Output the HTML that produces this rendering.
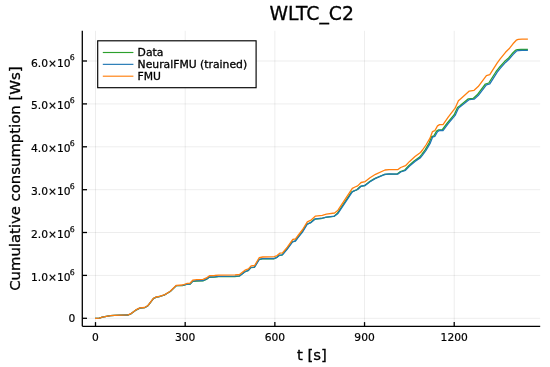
<!DOCTYPE html>
<html><head><meta charset="utf-8"><title>WLTC_C2</title>
<style>html,body{margin:0;padding:0;background:#fff;overflow:hidden}text{fill:#000;stroke:#000;stroke-width:0.2px}text.b{stroke-width:0.3px}</style></head>
<body>
<svg width="550" height="367" viewBox="0 0 550 367" style="display:block;font-family:'DejaVu Sans','Liberation Sans',sans-serif">
<rect width="550" height="367" fill="#fff"/>
<line x1="95.5" y1="30.8" x2="95.5" y2="326.3" stroke="#000" stroke-opacity="0.1" stroke-width="0.7"/>
<line x1="185.18" y1="30.8" x2="185.18" y2="326.3" stroke="#000" stroke-opacity="0.1" stroke-width="0.7"/>
<line x1="274.86" y1="30.8" x2="274.86" y2="326.3" stroke="#000" stroke-opacity="0.1" stroke-width="0.7"/>
<line x1="364.54" y1="30.8" x2="364.54" y2="326.3" stroke="#000" stroke-opacity="0.1" stroke-width="0.7"/>
<line x1="454.22" y1="30.8" x2="454.22" y2="326.3" stroke="#000" stroke-opacity="0.1" stroke-width="0.7"/>
<line x1="82.3" y1="318.3" x2="540.2" y2="318.3" stroke="#000" stroke-opacity="0.1" stroke-width="0.7"/>
<line x1="82.3" y1="275.4" x2="540.2" y2="275.4" stroke="#000" stroke-opacity="0.1" stroke-width="0.7"/>
<line x1="82.3" y1="232.5" x2="540.2" y2="232.5" stroke="#000" stroke-opacity="0.1" stroke-width="0.7"/>
<line x1="82.3" y1="189.7" x2="540.2" y2="189.7" stroke="#000" stroke-opacity="0.1" stroke-width="0.7"/>
<line x1="82.3" y1="146.8" x2="540.2" y2="146.8" stroke="#000" stroke-opacity="0.1" stroke-width="0.7"/>
<line x1="82.3" y1="103.9" x2="540.2" y2="103.9" stroke="#000" stroke-opacity="0.1" stroke-width="0.7"/>
<line x1="82.3" y1="61.0" x2="540.2" y2="61.0" stroke="#000" stroke-opacity="0.1" stroke-width="0.7"/>
<line x1="82.3" y1="326.3" x2="540.2" y2="326.3" stroke="#000" stroke-width="1.3"/>
<line x1="82.3" y1="30.8" x2="82.3" y2="326.3" stroke="#000" stroke-width="1.3"/>
<line x1="95.5" y1="326.3" x2="95.5" y2="322.1" stroke="#000" stroke-width="1.3"/>
<text x="95.5" y="340.8" font-size="10.7" text-anchor="middle">0</text>
<line x1="185.18" y1="326.3" x2="185.18" y2="322.1" stroke="#000" stroke-width="1.3"/>
<text x="185.18" y="340.8" font-size="10.7" text-anchor="middle">300</text>
<line x1="274.86" y1="326.3" x2="274.86" y2="322.1" stroke="#000" stroke-width="1.3"/>
<text x="274.86" y="340.8" font-size="10.7" text-anchor="middle">600</text>
<line x1="364.54" y1="326.3" x2="364.54" y2="322.1" stroke="#000" stroke-width="1.3"/>
<text x="364.54" y="340.8" font-size="10.7" text-anchor="middle">900</text>
<line x1="454.22" y1="326.3" x2="454.22" y2="322.1" stroke="#000" stroke-width="1.3"/>
<text x="454.22" y="340.8" font-size="10.7" text-anchor="middle">1200</text>
<line x1="82.3" y1="318.3" x2="87.0" y2="318.3" stroke="#000" stroke-width="1.3"/>
<text x="75.2" y="322.2" font-size="10.7" text-anchor="end">0</text>
<line x1="82.3" y1="275.4" x2="87.0" y2="275.4" stroke="#000" stroke-width="1.3"/>
<text x="70.5" y="280.9" font-size="10.7" text-anchor="end">1.0×10</text>
<text x="69.8" y="274.67" font-size="7.8" text-anchor="start">6</text>
<line x1="82.3" y1="232.5" x2="87.0" y2="232.5" stroke="#000" stroke-width="1.3"/>
<text x="70.5" y="238.0" font-size="10.7" text-anchor="end">2.0×10</text>
<text x="69.8" y="231.79" font-size="7.8" text-anchor="start">6</text>
<line x1="82.3" y1="189.7" x2="87.0" y2="189.7" stroke="#000" stroke-width="1.3"/>
<text x="70.5" y="195.2" font-size="10.7" text-anchor="end">3.0×10</text>
<text x="69.8" y="188.91" font-size="7.8" text-anchor="start">6</text>
<line x1="82.3" y1="146.8" x2="87.0" y2="146.8" stroke="#000" stroke-width="1.3"/>
<text x="70.5" y="152.3" font-size="10.7" text-anchor="end">4.0×10</text>
<text x="69.8" y="146.03" font-size="7.8" text-anchor="start">6</text>
<line x1="82.3" y1="103.9" x2="87.0" y2="103.9" stroke="#000" stroke-width="1.3"/>
<text x="70.5" y="109.4" font-size="10.7" text-anchor="end">5.0×10</text>
<text x="69.8" y="103.15" font-size="7.8" text-anchor="start">6</text>
<line x1="82.3" y1="61.0" x2="87.0" y2="61.0" stroke="#000" stroke-width="1.3"/>
<text x="70.5" y="66.5" font-size="10.7" text-anchor="end">6.0×10</text>
<text x="69.8" y="60.27" font-size="7.8" text-anchor="start">6</text>
<polyline fill="none" stroke="#2ca02c" stroke-width="1.3" stroke-linejoin="round" points="95.0,318.3 99.4,318.2 102.3,317.1 110.5,315.7 114.6,315.4 128.2,315.0 130.9,313.8 136.4,309.8 139.8,308.1 144.6,307.7 148.0,305.7 153.4,298.6 156.2,297.2 159.6,296.5 164.8,294.8 170.2,291.5 176.4,285.6 182.5,285.5 187.3,284.2 190.0,284.2 192.7,281.4 196.8,281.0 203.0,280.8 206.3,279.4 209.3,277.3 214.5,277.1 218.5,276.7 234.7,276.5 239.1,276.2 244.6,272.0 248.0,270.7 250.6,267.7 254.1,267.4 258.8,259.6 262.1,258.9 273.6,258.8 276.4,257.6 279.1,255.4 281.8,255.1 286.5,249.4 292.0,241.9 294.7,241.3 297.6,237.5 301.5,232.6 306.5,224.5 310.6,222.6 314.7,219.1 321.5,218.5 325.6,217.3 333.8,216.4 337.2,213.6 351.4,192.1 354.1,190.8 356.8,189.8 360.2,186.5 364.3,185.7 369.1,181.9 374.6,178.6 384.1,174.5 388.2,174.2 397.1,174.1 399.8,171.9 404.6,170.1 408.7,165.7 414.1,161.0 419.6,157.1 421.6,154.6 425.1,149.8 429.1,143.1 431.6,136.6 433.9,135.8 436.6,131.1 438.7,129.8 442.1,130.0 447.3,123.0 454.2,114.7 457.5,107.5 459.6,105.9 468.3,98.8 473.1,98.5 477.2,94.8 485.4,84.0 488.8,83.0 496.1,71.5 499.0,67.8 504.5,61.6 508.6,58.0 512.0,53.8 515.3,50.4 517.3,49.7 521.0,49.5 527.9,49.5"/>
<polyline fill="none" stroke="#1f77b4" stroke-width="1.3" stroke-linejoin="round" points="95.0,318.3 99.4,318.2 102.3,317.1 110.5,315.7 114.6,315.4 128.2,315.0 130.9,313.8 136.4,309.8 139.8,308.1 144.6,307.7 148.0,305.7 153.4,298.6 156.2,297.2 159.6,296.5 164.8,294.8 170.2,291.5 176.4,285.6 182.5,285.4 187.3,284.1 190.0,284.1 192.7,281.2 196.8,280.7 203.0,280.5 206.4,279.1 209.4,277.0 214.6,276.8 218.7,276.4 235.0,276.2 239.5,275.9 245.0,271.7 248.4,270.4 251.1,267.4 254.6,267.1 259.3,259.3 262.7,258.6 274.3,258.5 277.1,257.3 279.8,255.1 282.5,254.8 287.3,249.1 292.8,241.6 295.5,241.0 298.4,237.2 302.3,232.3 307.3,224.2 311.4,222.3 315.5,218.8 322.3,218.2 326.4,217.1 334.6,216.1 338.0,213.4 352.3,191.8 355.0,190.5 357.7,189.5 361.1,186.2 365.2,185.5 370.0,181.7 375.5,178.4 385.0,174.3 389.1,174.0 398.0,174.1 400.7,172.0 405.5,170.3 409.6,166.1 415.0,161.4 420.5,157.6 422.5,155.1 426.0,150.3 430.0,143.7 432.5,137.2 434.8,136.4 437.5,131.7 439.6,130.5 443.0,130.7 448.2,123.7 455.1,115.4 458.4,108.2 460.5,106.6 469.3,99.6 474.1,99.2 478.2,95.6 486.4,84.8 489.8,83.8 497.1,72.3 500.0,68.6 505.5,62.4 509.6,58.7 513.0,54.6 516.3,51.2 518.3,50.5 522.0,50.3 527.9,50.3"/>
<polyline fill="none" stroke="#ff7f0e" stroke-width="1.3" stroke-linejoin="round" points="95.0,318.3 99.4,318.2 102.3,317.1 110.5,315.6 114.6,315.3 128.2,314.9 130.9,313.7 136.4,309.6 139.8,307.9 144.6,307.5 148.0,305.5 153.4,298.4 156.2,297.0 159.6,296.3 164.8,294.6 170.2,291.2 176.4,285.3 182.5,285.0 187.3,283.4 190.0,283.2 192.7,280.2 196.8,279.6 203.0,279.3 206.4,277.9 209.4,275.7 214.6,275.5 218.7,275.1 235.0,274.8 239.5,274.5 245.0,270.2 248.4,268.9 251.1,265.9 254.6,265.5 259.3,257.7 262.7,257.0 274.3,256.7 277.1,255.5 279.8,253.2 282.5,252.9 287.3,247.1 292.8,239.5 295.5,238.9 298.4,235.0 302.3,230.0 307.3,221.8 311.4,219.8 315.5,216.1 322.3,215.3 326.4,214.1 334.6,213.0 338.0,210.2 352.3,188.4 355.0,187.0 357.7,185.9 361.1,182.5 365.2,181.6 370.0,177.7 375.5,174.3 385.0,170.0 389.1,169.6 398.0,169.6 400.7,167.5 405.5,165.7 409.6,161.4 415.0,156.6 420.5,152.5 422.5,150.0 426.0,145.0 430.0,138.2 432.5,131.6 434.8,130.7 437.5,125.9 439.6,124.6 443.0,124.6 448.2,117.1 455.1,108.2 458.4,100.7 460.5,98.9 469.3,91.1 474.1,90.3 478.2,86.6 486.4,75.7 489.8,74.7 497.1,63.1 500.0,59.1 505.5,52.3 509.6,48.2 513.0,43.8 516.3,40.2 518.3,39.4 522.0,39.2 527.9,39.2"/>
<rect x="97.7" y="40.8" width="158.4" height="46.9" fill="#fff" stroke="#000" stroke-width="1.15"/>
<line x1="102.8" y1="52.50" x2="133.4" y2="52.50" stroke="#2ca02c" stroke-width="1.15"/>
<text x="137.6" y="56.35" font-size="10.8" class="b">Data</text>
<line x1="102.8" y1="64.35" x2="133.4" y2="64.35" stroke="#1f77b4" stroke-width="1.15"/>
<text x="137.6" y="68.20" font-size="10.8" class="b">NeuralFMU (trained)</text>
<line x1="102.8" y1="76.20" x2="133.4" y2="76.20" stroke="#ff7f0e" stroke-width="1.15"/>
<text x="137.6" y="80.05" font-size="10.8" class="b">FMU</text>
<text x="311.7" y="19.7" font-size="18.8" text-anchor="middle" class="b">WLTC_C2</text>
<text x="311.9" y="360.0" font-size="14.9" text-anchor="middle" class="b">t [s]</text>
<text transform="translate(19.5,178.7) rotate(-90)" font-size="14.85" text-anchor="middle" class="b">Cumulative consumption [Ws]</text>
</svg>
</body></html>
